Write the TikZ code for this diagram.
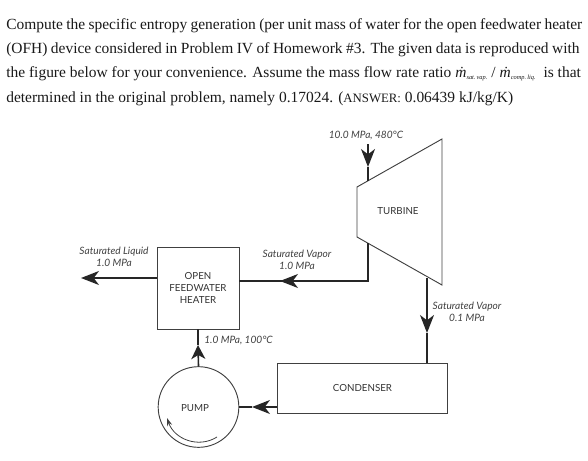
\documentclass[tikz,border=0pt]{standalone}
\usepackage{fontspec}
\setmainfont{Liberation Serif}
\newfontfamily\lab{Lato}
\usetikzlibrary{arrows.meta}
\tikzset{
  box/.style={draw=black!75,line width=0.7pt,inner sep=0pt,align=center,font=\lab\fontsize{7.3}{9}\selectfont,text=black!80},
  pipe/.style={draw=black!85,line width=1.2pt},
  pipearrow/.style={pipe,-{Stealth[length=13.5pt,width=10.5pt,inset=4pt]}},
  shortarrow/.style={pipe,-{Stealth[length=10.5pt,width=10.5pt,inset=3pt]}},
  vlabel/.style={inner sep=0pt,align=center,font=\lab\itshape\fontsize{7.6}{9}\selectfont,text=black!75},
  tlabel/.style={inner sep=0pt,align=center,font=\lab\fontsize{7.3}{9}\selectfont,text=black!80},
  line/.style={inner sep=0pt,anchor=base west,font=\fontsize{11.6}{13}\selectfont,text=black!90}
}
\newcommand{\subm}[1]{\raisebox{-1.2pt}{\fontsize{4.8}{5}\selectfont\itshape #1}}
\begin{document}
\begin{tikzpicture}[x=0.75pt,y=-0.75pt]
\useasboundingbox (0,0) rectangle (588,460);
% problem statement
\node[line] (l1) at (6,30) {\makebox[432pt][s]{Compute the specific entropy generation (per unit mass of water for the open feedwater heater}};
\node[line] (l2) at (6,54) {\makebox[430pt][s]{(OFH) device considered in Problem IV of Homework \#3. The given data is reproduced with}};
\node[line] (l3) at (6,78) {\makebox[431pt][s]{the figure below for your convenience. Assume the mass flow rate ratio \textit{ṁ}\subm{sat.\,vap.} / \textit{ṁ}\subm{comp.\,liq.}\ \ is that}};
\node[line] (l4) at (6,102) {determined in the original problem, namely 0.17024. ({\fontsize{9.6}{11}\selectfont ANSWER:} 0.06439 kJ/kg/K)};
% equipment
\coordinate (ta) at (357,187);
\coordinate (tb) at (442,139);
\coordinate (tc) at (442,285);
\coordinate (td) at (357,237);
\draw[draw=black!75,line width=0.7pt] (ta) -- (tb) -- (tc) -- (td) -- cycle;
\node[tlabel] (turb) at (398,211) {TURBINE};
\node[box,minimum width=61.5pt,minimum height=61.5pt] (ofh) at (198,288) {OPEN\\FEEDWATER\\HEATER};
\node[box,minimum width=128pt,minimum height=38pt] (cond) at (362.5,388.5) {CONDENSER};
\node[box,circle,minimum size=60.5pt] (pump) at (198.5,407) {};
\node[tlabel] (pumpt) at (195,408) {PUMP};
% inner rotation arrow
\coordinate (rs) at (217,437);
\coordinate (re) at (167,418);
\draw[draw=black!75,line width=0.6pt,-{Stealth[length=6pt,width=4pt]}] (rs) .. controls (198.2,448.8) and (174.2,439) .. (re);
% connectors
\coordinate (in0) at (368,144);
\coordinate (in1) at (368,167);
\coordinate (in2) at (368,181);
\draw[pipearrow] (in0) -- (in1);
\draw[pipe] (in1) -- (in2);
\coordinate (ex0) at (368,243);
\coordinate (ex1) at (368,281);
\coordinate (ex2) at (280,281);
\draw[pipe] (ex0) -- (ex1) -- (ex2);
\draw[pipearrow] (ex1) -- (ex2);
\draw[pipe] (ex2) -- (ofh.east |- ex2);
\coordinate (liq) at (81,278);
\draw[pipearrow] (ofh.west |- liq) -- (liq);
\coordinate (up) at (198,345);
\draw[shortarrow] (pump.north) -- (up);
\draw[pipe] (up) -- (ofh.south);
\coordinate (cv0) at (427,278);
\coordinate (cv1) at (427,333);
\draw[pipearrow] (cv0) -- (cv1);
\draw[pipe] (cv1) -- (cv1 |- cond.north);
\coordinate (cp) at (252,407);
\draw[pipearrow] (cond.west |- cp) -- (cp);
\draw[pipe] (cp) -- (pump.east);
% labels
\node[vlabel] (a) at (366,136) {10.0 MPa, 480°C};
\node[vlabel] (b) at (114,257) {Saturated Liquid\\1.0 MPa};
\node[vlabel] (c) at (297,260) {Saturated Vapor\\1.0 MPa};
\node[vlabel,anchor=west] (d) at (204,341) {1.0 MPa, 100°C};
\node[vlabel] (e) at (467,312) {Saturated Vapor\\0.1 MPa};
\end{tikzpicture}
\end{document}
